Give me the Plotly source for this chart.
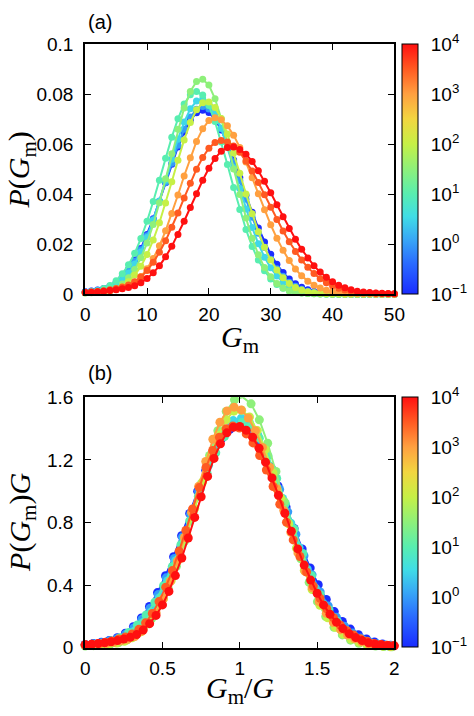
import plotly.graph_objects as go
from plotly.colors import sample_colorscale

# ---------------- data ----------------
Gm = list(range(0, 51))

t_values = [0.1, 1, 3, 10, 30, 100, 1000, 3000, 10000]
log_t = [-1, 0, 0.5, 1, 1.5, 2, 3, 3.5, 4]

P_t0p1 = [.0011, .0014, .0018, .0024, .0033, .0048, .0070, .0099, .0137, .0183,
          .0239, .0302, .0372, .0446, .0520, .0589, .0648, .0695, .0725, .0735,
          .0726, .0699, .0656, .0601, .0537, .0467, .0396, .0328, .0265, .0209,
          .0160, .0120, .0087, .0062, .0043, .0029, .0019, .0012, .0008, .0005,
          .0003, .0002, .0002, .0001, .0001, .0001, .0001, .0001, .0001, .0001, .0001]
P_t1 = [.0010, .0013, .0017, .0023, .0031, .0045, .0066, .0095, .0132, .0178,
        .0234, .0299, .0371, .0447, .0524, .0596, .0659, .0708, .0739, .0750,
        .0740, .0709, .0662, .0601, .0530, .0455, .0380, .0308, .0244, .0187,
        .0140, .0102, .0072, .0049, .0033, .0021, .0013, .0009, .0006, .0004,
        .0003, .0002, .0001, .0001, .0001, .0001, .0001, .0001, .0001, .0001, .0001]
P_t3 = [.0008, .0010, .0013, .0018, .0025, .0037, .0057, .0085, .0121, .0169,
        .0227, .0296, .0373, .0456, .0540, .0620, .0688, .0741, .0772, .0780,
        .0762, .0722, .0663, .0589, .0507, .0423, .0341, .0267, .0202, .0148,
        .0106, .0073, .0049, .0031, .0020, .0012, .0008, .0005, .0003, .0002,
        .0001, .0001, .0001, .0001, .0001, .0001, .0001, .0001, .0001, .0001, .0001]
P_t10 = [.0008, .0011, .0015, .0024, .0036, .0055, .0082, .0118, .0164, .0223,
         .0292, .0371, .0456, .0544, .0628, .0701, .0760, .0797, .0810, .0796,
         .0754, .0690, .0609, .0519, .0427, .0339, .0259, .0191, .0137, .0094,
         .0062, .0040, .0025, .0015, .0009, .0006, .0004, .0003, .0002, .0001,
         .0001, .0001, .0001, .0001, .0001, .0001, .0001, .0001, .0001, .0001, .0001]
P_t30 = [.0006, .0007, .0009, .0012, .0017, .0026, .0042, .0066, .0099, .0146,
         .0205, .0279, .0366, .0462, .0562, .0659, .0744, .0810, .0850, .0859,
         .0836, .0781, .0701, .0604, .0501, .0399, .0305, .0224, .0158, .0107,
         .0070, .0044, .0026, .0015, .0009, .0006, .0004, .0003, .0002, .0002,
         .0001, .0001, .0001, .0001, .0001, .0001, .0001, .0001, .0001, .0001, .0001]
P_t100 = [.0007, .0008, .0010, .0012, .0015, .0021, .0032, .0051, .0077, .0112,
          .0159, .0217, .0286, .0365, .0450, .0536, .0617, .0686, .0737, .0765,
          .0768, .0746, .0702, .0641, .0565, .0484, .0401, .0322, .0250, .0188,
          .0137, .0097, .0066, .0044, .0028, .0018, .0011, .0007, .0005, .0003,
          .0002, .0002, .0001, .0001, .0001, .0001, .0001, .0001, .0001, .0001, .0001]
P_t1000 = [.0008, .0009, .0011, .0013, .0016, .0020, .0025, .0033, .0048, .0071,
           .0102, .0143, .0194, .0254, .0323, .0397, .0473, .0546, .0611, .0661,
           .0694, .0705, .0697, .0673, .0636, .0587, .0529, .0466, .0402, .0338,
           .0278, .0224, .0176, .0135, .0101, .0074, .0053, .0037, .0026, .0017,
           .0011, .0008, .0006, .0005, .0004, .0003, .0003, .0002, .0002, .0002, .0001]
P_t3000 = [.0008, .0010, .0012, .0015, .0019, .0024, .0030, .0038, .0051, .0069,
           .0095, .0128, .0168, .0214, .0268, .0325, .0385, .0444, .0500, .0547,
           .0584, .0607, .0615, .0609, .0593, .0568, .0533, .0493, .0447, .0398,
           .0348, .0299, .0253, .0210, .0171, .0137, .0108, .0083, .0063, .0047,
           .0035, .0025, .0018, .0012, .0009, .0007, .0006, .0005, .0004, .0003, .0003]
P_t10000 = [.0008, .0009, .0011, .0013, .0016, .0019, .0023, .0028, .0035, .0047,
            .0064, .0086, .0114, .0150, .0192, .0239, .0292, .0347, .0402, .0456,
            .0504, .0543, .0572, .0587, .0589, .0579, .0560, .0531, .0494, .0452,
            .0406, .0358, .0310, .0263, .0220, .0180, .0145, .0114, .0089, .0068,
            .0051, .0037, .0027, .0019, .0013, .0010, .0008, .0006, .0005, .0004, .0003]

P_curves = [P_t0p1, P_t1, P_t3, P_t10, P_t30, P_t100, P_t1000, P_t3000, P_t10000]

# mean G of each distribution (used for the scaled panel b)
G_mean = [19.24, 19.08, 18.8, 17.76, 18.64, 19.76, 21.8, 23.04, 24.0]

xa_ticks = [0, 10, 20, 30, 40, 50]
ya_ticks = [0, 0.02, 0.04, 0.06, 0.08, 0.1]
ya_text = ["0", "0.02", "0.04", "0.06", "0.08", "0.1"]
xb_ticks = [0, 0.5, 1, 1.5, 2]
xb_text = ["0", "0.5", "1", "1.5", "2"]
yb_ticks = [0, 0.4, 0.8, 1.2, 1.6]
yb_text = ["0", "0.4", "0.8", "1.2", "1.6"]
cb_ticks = [-1, 0, 1, 2, 3, 4]
cb_text = ["10<sup>\u22121</sup>", "10<sup>0</sup>", "10<sup>1</sup>",
           "10<sup>2</sup>", "10<sup>3</sup>", "10<sup>4</sup>"]

# ---------------- styling ----------------
JET = [[0.0, '#1a2cff'], [0.12, '#2a6aff'], [0.22, '#38a8f6'], [0.31, '#40dde6'],
       [0.4, '#58eeb0'], [0.5, '#8ef07a'], [0.6, '#c6f046'], [0.7, '#f2d640'],
       [0.8, '#ffa040'], [0.9, '#ff5a22'], [1.0, '#ff1010']]
CMIN, CMAX = -1, 4
SANS = "Liberation Sans, Arial, Helvetica, sans-serif"
SERIF = "Liberation Serif, Times New Roman, serif"
TICKFONT = dict(family=SANS, size=19, color="black")

fig = go.Figure()

for lt, P, G in zip(log_t, P_curves, G_mean):
    col = sample_colorscale(JET, [(lt - CMIN) / (CMAX - CMIN)])[0]
    fig.add_trace(go.Scatter(
        x=Gm, y=P, mode="lines+markers", xaxis="x", yaxis="y",
        line=dict(color=col, width=2),
        marker=dict(size=7, color=[lt] * len(Gm), coloraxis="coloraxis"),
        cliponaxis=False, showlegend=False))
    xs, ys = [], []
    for g, p in zip(Gm, P):
        if g / G <= 2.01:
            xs.append(g / G)
            ys.append(p * G)
    fig.add_trace(go.Scatter(
        x=xs, y=ys, mode="lines+markers", xaxis="x2", yaxis="y2",
        line=dict(color=col, width=2),
        marker=dict(size=9, color=[lt] * len(xs), coloraxis="coloraxis2"),
        cliponaxis=False, showlegend=False))

W, H = 474, 716
xdom = [83 / W, 403 / W]
ydom_a = [1 - 293 / H, 1 - 35 / H]
ydom_b = [1 - 657 / H, 1 - 399 / H]

axis_common = dict(showline=True, linewidth=2, linecolor="black", mirror="ticks",
                   ticks="inside", ticklen=6, tickwidth=1, tickcolor="black",
                   showgrid=False, zeroline=False, tickfont=TICKFONT)

def cbar(ytop):
    return dict(x=411 / W, xanchor="left", xpad=0, y=ytop, yanchor="top",
                len=258 / H, lenmode="fraction", ypad=0, thickness=16,
                outlinewidth=1, outlinecolor="black",
                tickmode="array", tickvals=cb_ticks, ticktext=cb_text,
                ticks="outside", ticklen=9, tickcolor="rgba(0,0,0,0)",
                tickfont=TICKFONT)

fig.update_layout(
    width=W, height=H, margin=dict(l=0, r=0, t=0, b=0),
    paper_bgcolor="white", plot_bgcolor="white",
    xaxis=dict(domain=xdom, anchor="y", range=[0, 50], tickmode="array",
               tickvals=xa_ticks, ticklabelstandoff=2, **axis_common),
    yaxis=dict(domain=ydom_a, anchor="x", range=[0, 0.1], tickmode="array",
               tickvals=ya_ticks, ticktext=ya_text, ticklabelstandoff=6, **axis_common),
    xaxis2=dict(domain=xdom, anchor="y2", range=[0, 2], tickmode="array",
                tickvals=xb_ticks, ticktext=xb_text, ticklabelstandoff=2, **axis_common),
    yaxis2=dict(domain=ydom_b, anchor="x2", range=[0, 1.6], tickmode="array",
                tickvals=yb_ticks, ticktext=yb_text, ticklabelstandoff=6, **axis_common),
    coloraxis=dict(colorscale=JET, cmin=CMIN, cmax=CMAX, colorbar=cbar(1 - 35 / H)),
    coloraxis2=dict(colorscale=JET, cmin=CMIN, cmax=CMAX, colorbar=cbar(1 - 399 / H)),
)

ann = [
    dict(text="(a)", x=84 / W, y=1 - 12 / H, xanchor="left", yanchor="middle",
         font=dict(family=SANS, size=20, color="black")),
    dict(text="(b)", x=84 / W, y=1 - 374 / H, xanchor="left", yanchor="middle",
         font=dict(family=SANS, size=20, color="black")),
    dict(text="<i>G</i><sub>m</sub>", x=243 / W, y=1 - 339 / H, xanchor="center",
         yanchor="middle", font=dict(family=SERIF, size=30, color="black")),
    dict(text="<i>G</i><sub>m</sub>/<i>G</i>", x=243 / W, y=1 - 701 / H, xanchor="center",
         yanchor="middle", font=dict(family=SERIF, size=30, color="black")),
    dict(text="<i>P</i>(<i>G</i><sub>m</sub>)", x=17 / W, y=1 - 165 / H, xanchor="center",
         yanchor="middle", textangle=-90, font=dict(family=SERIF, size=30, color="black")),
    dict(text="<i>P</i>(<i>G</i><sub>m</sub>)<i>G</i>", x=17 / W, y=1 - 528 / H,
         xanchor="center", yanchor="middle", textangle=-90,
         font=dict(family=SERIF, size=30, color="black")),
]
for a in ann:
    a.update(xref="paper", yref="paper", showarrow=False)
fig.update_layout(annotations=ann)

fig.write_html("out.html")
